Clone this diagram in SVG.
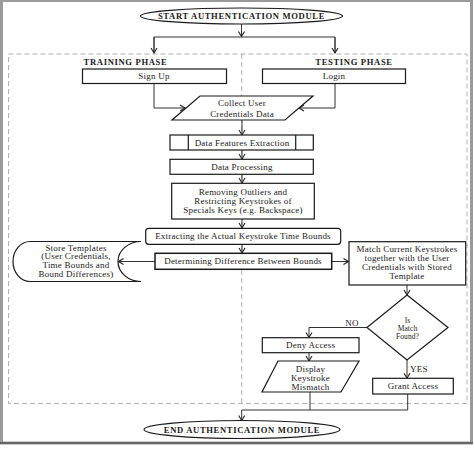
<svg xmlns="http://www.w3.org/2000/svg" width="474" height="459" viewBox="0 0 474 459">
<defs>
<marker id="arr" markerWidth="8" markerHeight="8" refX="6" refY="4" orient="auto" markerUnits="userSpaceOnUse">
<path d="M1,1 L6,4 L1,7" fill="none" stroke="#222" stroke-width="1.1"/>
</marker>
<style>
.t{font-family:"Liberation Serif","Times New Roman",serif;font-size:9px;letter-spacing:0.22px;fill:#1a1a1a;text-anchor:middle}
.h{font-family:"Liberation Serif","Times New Roman",serif;font-size:8.6px;font-weight:bold;letter-spacing:0.65px;fill:#1a1a1a;text-anchor:middle}
.s{font-size:7.5px;letter-spacing:0.1px}
.box{fill:#fff;stroke:#1a1a1a;stroke-width:1.2}
.c{fill:none;stroke:#333;stroke-width:1}
.ca{fill:none;stroke:#333;stroke-width:1;marker-end:url(#arr)}
.d{fill:none;stroke:#b0b0b0;stroke-width:1;stroke-dasharray:5,3}
</style>
</defs>
<rect width="474" height="459" fill="#fff"/>
<rect x="1.5" y="0.5" width="470" height="442.5" fill="none" stroke="#9a9a9a" stroke-width="3"/>
<line x1="0" y1="443" x2="473" y2="443" stroke="#555" stroke-width="1.5"/>
<g id="phases">
<rect class="d" x="8.5" y="54" width="458.5" height="349.5"/>
<line class="d" x1="241.7" y1="54" x2="241.7" y2="403.5"/>
<text class="h" x="125.5" y="64.5">TRAINING PHASE</text>
<text class="h" x="354" y="64.5">TESTING PHASE</text>
</g>
<g id="connectors">
<line class="ca" x1="241.5" y1="24" x2="241.5" y2="36.5"/>
<polyline class="c" points="154,53 154,37 335,37 335,53"/>
<line class="ca" x1="154" y1="37" x2="154" y2="53"/>
<line class="ca" x1="335" y1="37" x2="335" y2="53"/>
<polyline class="ca" points="154,83.5 154,108 185,108"/>
<polyline class="ca" points="335,83.5 335,108 299,108"/>
<line class="ca" x1="242" y1="120" x2="242" y2="135"/>
<line class="ca" x1="242" y1="150" x2="242" y2="159"/>
<line class="ca" x1="242" y1="174.5" x2="242" y2="183"/>
<line class="ca" x1="242" y1="219" x2="242" y2="228"/>
<line class="ca" x1="242" y1="244.5" x2="242" y2="253"/>
<line class="ca" x1="155" y1="261.5" x2="118.5" y2="261.5"/>
<line class="ca" x1="331.7" y1="261.5" x2="348.5" y2="261.5"/>
<line class="ca" x1="407" y1="285" x2="407" y2="295"/>
<polyline class="ca" points="367.5,327.5 309,327.5 309,337.5"/>
<text class="t" x="352" y="326">NO</text>
<line class="ca" x1="407" y1="360" x2="407" y2="378.3"/>
<text class="t" x="410" y="371.7" style="text-anchor:start">YES</text>
<line class="ca" x1="309" y1="353" x2="309" y2="361"/>
<polyline class="c" points="310,392 310,410"/>
<polyline class="ca" points="407.7,394 407.7,410 241.7,410 241.7,420.5"/>
</g>
<g id="start">
<ellipse class="box" cx="241.5" cy="16" rx="101" ry="8"/>
<text class="h" x="241.5" y="19">START AUTHENTICATION MODULE</text>
</g>
<g id="signup">
<rect class="box" x="82.5" y="69" width="144" height="14.5"/>
<text class="t" x="154" y="79.3">Sign Up</text>
</g>
<g id="login">
<rect class="box" x="262.5" y="69" width="143" height="14.5"/>
<text class="t" x="334" y="79.3">Login</text>
</g>
<g id="collect">
<polygon class="box" points="200,96 313,96 285,120 172,120"/>
<text class="t" x="242" y="106">Collect User</text>
<text class="t" x="242" y="116.5">Credentials Data</text>
</g>
<g id="features">
<rect class="box" x="170" y="135" width="143.3" height="15"/>
<line class="box" x1="188.3" y1="135" x2="188.3" y2="150"/>
<line class="box" x1="295.7" y1="135" x2="295.7" y2="150"/>
<text class="t" x="242" y="146">Data Features Extraction</text>
</g>
<g id="processing">
<rect class="box" x="170" y="159.3" width="143.3" height="15"/>
<text class="t" x="242" y="170">Data Processing</text>
</g>
<g id="removing">
<rect class="box" x="171.7" y="183.3" width="142.6" height="35.7"/>
<text class="t" x="243" y="195">Removing Outliers and</text>
<text class="t" x="243" y="203.7">Restricting Keystrokes of</text>
<text class="t" x="243" y="212.5">Specials Keys (e.g. Backspace)</text>
</g>
<g id="extracting">
<rect class="box" x="145.7" y="228.3" width="195" height="16" rx="3"/>
<text class="t" x="243" y="239">Extracting the Actual Keystroke Time Bounds</text>
</g>
<g id="determining">
<rect class="box" x="155" y="253.3" width="176.7" height="16" style="stroke-width:1.5"/>
<text class="t" x="243" y="264">Determining Difference Between Bounds</text>
</g>
<g id="store">
<path class="box" d="M30,241.5 L141,241.5 A23,20 0 0 0 141,281.5 L30,281.5 A17,20 0 0 1 30,241.5 Z"/>
<text class="t" x="76" y="250.5">Store Templates</text>
<text class="t" x="76" y="259.3">(User Credentials,</text>
<text class="t" x="76" y="268">Time Bounds and</text>
<text class="t" x="76" y="276.8">Bound Differences)</text>
</g>
<g id="match">
<rect class="box" x="349" y="241.7" width="116.7" height="43.3"/>
<text class="t" x="407" y="251.5">Match Current Keystrokes</text>
<text class="t" x="407" y="260.8">together with the User</text>
<text class="t" x="407" y="270">Credentials with Stored</text>
<text class="t" x="407" y="279.3">Template</text>
</g>
<g id="decision">
<polygon class="box" points="407,295 448,327.5 407,360 367,327.5"/>
<text class="t s" x="407.5" y="322.5">Is</text>
<text class="t s" x="407.5" y="330.8">Match</text>
<text class="t s" x="407.5" y="338.8">Found?</text>
</g>
<g id="deny">
<rect class="box" x="262.3" y="337.7" width="96.7" height="15"/>
<text class="t" x="310.7" y="348">Deny Access</text>
</g>
<g id="display">
<polygon class="box" points="278,361 359,361 341,392 262,392"/>
<text class="t" x="310.5" y="371.5">Display</text>
<text class="t" x="310.5" y="380.8">Keystroke</text>
<text class="t" x="310.5" y="390">Mismatch</text>
</g>
<g id="grant">
<rect class="box" x="372.7" y="378.3" width="80.6" height="15.7"/>
<text class="t" x="413" y="389">Grant Access</text>
</g>
<g id="end">
<ellipse class="box" cx="242" cy="429.5" rx="98" ry="9"/>
<text class="h" x="242" y="433">END AUTHENTICATION MODULE</text>
</g>
</svg>
